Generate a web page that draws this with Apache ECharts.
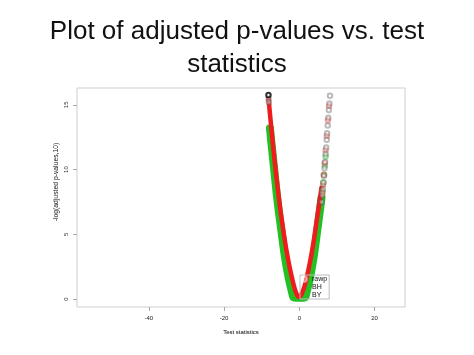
<!DOCTYPE html>
<html>
<head>
<meta charset="utf-8">
<script src="https://cdn.jsdelivr.net/npm/echarts@6/dist/echarts.min.js"></script>
<style>
html,body{margin:0;padding:0;background:#fff;}
#chart{width:474px;height:355px;}
</style>
</head>
<body>
<div id="chart"></div>
<script>
// ---- data ----
var titleText = 'Plot of adjusted p-values vs. test\nstatistics';
var xTitle = 'Test statistics';
var yTitle = '-log(adjusted p-values,10)';
var xTicks = [-40, -20, 0, 20];
var yTicks = [0, 5, 10, 15];

// dense band of BY (green)
var byX = [-7.8,-7.5,-7,-6.5,-6,-5.5,-5,-4.5,-4,-3.5,-3,-2.5,-2,-1.6,-1,0,1,1.6,2,2.5,3,3.5,4,4.5,5,5.5,5.9];
var byY = [13.2,12.3,10.9,9.5,8.1,6.9,5.8,4.7,3.6,2.7,1.9,1.2,0.6,0.15,0.1,0.1,0.1,0.15,0.6,1.2,1.9,2.7,3.6,4.7,5.8,6.9,7.8];

// dense band of BH (red)
var bhX = [-8.2,-7.9,-7.5,-7,-6.5,-6,-5.5,-5,-4.5,-4,-3.5,-3,-2.5,-2,-1.5,-1,-0.5,0,0.5,1,1.5,2,2.5,3,3.5,4,4.5,5,5.5,5.9];
var bhY = [15.6,14.6,13.4,11.9,10.5,9.2,8.0,6.8,5.8,4.8,3.9,3.1,2.35,1.7,1.1,0.6,0.25,0.15,0.3,0.65,1.1,1.7,2.35,3.1,3.9,4.8,5.8,6.8,7.8,8.6];

// sparse open circles
var rawpTopX = [-8.2];
var rawpTopY = [15.75];
var rawpX = [-8.15,-8.1,8.15,8.0,7.85,7.7,7.55,7.4,7.3,7.15,7.0,6.85,6.7,6.55,6.4,6.25,6.1,5.95];
var rawpY = [15.45,15.2,15.7,15.1,14.6,14.0,13.4,12.8,12.3,11.7,11.2,10.6,10.1,9.5,9.0,8.5,8.0,7.5];
var bhSX = [7.9,7.6,7.3,7.0,6.75,6.5,6.3,6.1];
var bhSY = [14.9,13.8,12.6,11.5,10.5,9.6,8.8,8.2];
var bySX = [7.0,6.8,6.6,6.4,6.2];
var bySY = [11.0,10.3,9.6,9.0,8.3];

function pairs(xs, ys){ return xs.map(function(x,i){ return [x, ys[i]]; }); }

var RED = '#ee1c1c', GREEN = '#22c022';
var FONT = 'Liberation Sans, Arial, sans-serif';

var chart = echarts.init(document.getElementById('chart'));
chart.setOption({
  animation: false,
  backgroundColor: '#fff',
  title: {
    text: titleText,
    left: 'center',
    top: 10,
    textStyle: {fontFamily: FONT, fontSize: 26, fontWeight: 'normal', color: '#111', lineHeight: 33}
  },
  legend: {
    orient: 'vertical',
    left: 300, top: 275,
    padding: [0, 2, 0, 0],
    itemGap: 1,
    itemWidth: 6, itemHeight: 7,
    borderColor: '#bbb', borderWidth: 1,
    textStyle: {fontFamily: FONT, fontSize: 7, color: '#111'},
    selectedMode: false,
    data: [
      {name: 'rawp', icon: 'emptyCircle', itemStyle: {color: '#fff', borderColor: '#aaa', borderWidth: 0.6}},
      {name: 'BH', icon: 'none'},
      {name: 'BY', icon: 'none'}
    ]
  },
  graphic: [{
    type: 'text', x: 56, y: 182, rotation: Math.PI / 2,
    style: {text: yTitle, font: '6.8px Liberation Sans, Arial, sans-serif', fill: '#111', align: 'center', verticalAlign: 'middle'}
  }],
  grid: {left: 77, right: 69, top: 88, bottom: 48, show: true, borderColor: '#cfcfcf', borderWidth: 1, containLabel: false},
  xAxis: {
    type: 'value', min: -59.1, max: 28.1,
    name: xTitle, nameLocation: 'middle', nameGap: 22,
    nameTextStyle: {fontFamily: FONT, fontSize: 6, color: '#000'},
    axisLine: {show: false, onZero: false},
    splitLine: {show: false},
    axisTick: {show: true, length: 4, lineStyle: {color: '#aaa'}, customValues: xTicks},
    axisLabel: {fontFamily: FONT, fontSize: 6, color: '#222', margin: 8, customValues: xTicks}
  },
  yAxis: {
    type: 'value', min: -0.62, max: 16.3,
    axisLine: {show: false, onZero: false},
    splitLine: {show: false},
    axisTick: {show: true, length: 4, lineStyle: {color: '#aaa'}, customValues: yTicks},
    axisLabel: {fontFamily: FONT, fontSize: 6, color: '#333', margin: 8, rotate: 90, customValues: yTicks}
  },
  series: [
    {name: 'BY', type: 'line', data: pairs(byX, byY), symbol: 'none', smooth: 0.25,
     lineStyle: {color: GREEN, width: 8, cap: 'round', join: 'round'}, itemStyle: {color: GREEN}, z: 2},
    {name: 'BH', type: 'line', data: pairs(bhX, bhY), symbol: 'none', smooth: 0.25,
     lineStyle: {color: RED, width: 4.5, cap: 'round', join: 'round'}, itemStyle: {color: RED}, z: 3},
    {name: 'BY', type: 'scatter', data: pairs(bySX, bySY), symbol: 'emptyCircle', symbolSize: 4.5,
     itemStyle: {color: GREEN, borderColor: GREEN, borderWidth: 0.6, opacity: 0.5}, z: 4},
    {name: 'BH', type: 'scatter', data: pairs(bhSX, bhSY), symbol: 'emptyCircle', symbolSize: 4.5,
     itemStyle: {color: RED, borderColor: RED, borderWidth: 0.6, opacity: 0.4}, z: 4},
    {name: 'rawp', type: 'scatter', data: pairs(rawpX, rawpY), symbol: 'emptyCircle', symbolSize: 4.5,
     itemStyle: {color: '#555', borderColor: '#555', borderWidth: 0.6, opacity: 0.4}, z: 5},
    {name: 'rawp', type: 'scatter', data: pairs(rawpTopX, rawpTopY), symbol: 'emptyCircle', symbolSize: 4.5,
     itemStyle: {color: '#111', borderColor: '#111', borderWidth: 0.9, opacity: 0.85}, z: 5}
  ]
});
</script>
</body>
</html>
